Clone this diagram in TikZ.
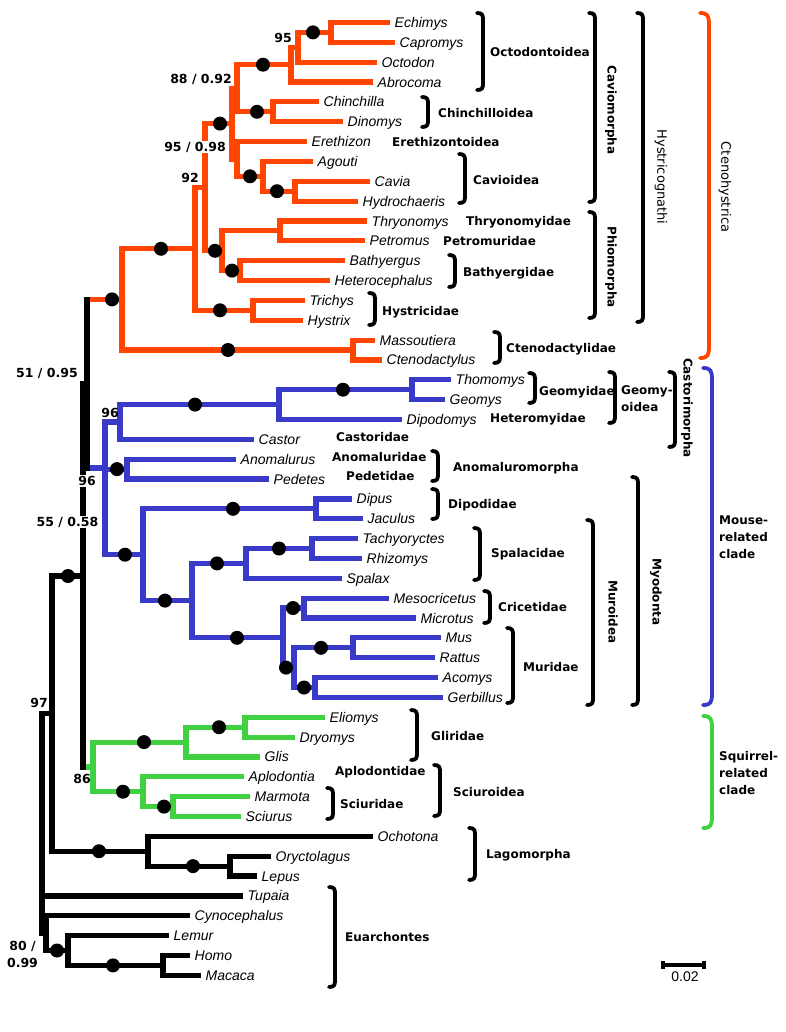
\documentclass[tikz,border=0pt]{standalone}
\usepackage{fontspec}
\setmainfont{Liberation Sans}
\newfontfamily\grpfamily{DejaVu Sans}
\definecolor{org}{RGB}{255,69,0}
\definecolor{blu}{RGB}{58,58,200}
\definecolor{grn}{RGB}{64,208,64}
\newcommand\hb[3]{\draw[br,#1] (#2 |- #3) -- (#3);}
\newcommand\vb[4]{\draw[vr,#1] (#2 |- #3) -- (#2 |- #4);}
\newcommand\mybrack[4][black]{\draw[brk,#1] ({#2-6},#3) .. controls ({#2-1},#3) and (#2,{#3+2}) .. (#2,{#3+6}) -- (#2,{#4-6}) .. controls (#2,{#4-2}) and ({#2-1},#4) .. ({#2-6},#4);}
\newcommand\mybigbrack[4][black]{\draw[brk,#1] ({#2-9},#3) .. controls ({#2-1},#3) and (#2,{#3+3}) .. (#2,{#3+12}) -- (#2,{#4-12}) .. controls (#2,{#4-3}) and ({#2-1},#4) .. ({#2-9},#4);}
\begin{document}
\begin{tikzpicture}[x=1pt,y=-1pt,
  br/.style={line width=5.2pt},
  vr/.style={line width=5.2pt,line cap=rect},
  brk/.style={line width=3.8pt,line cap=round},
  dot/.style={circle,fill=black,minimum size=14pt,inner sep=0pt},
  leaf/.style={anchor=west,inner xsep=4.5pt,inner ysep=0pt,font=\fontsize{14}{16}\selectfont\itshape,text height=10pt,text depth=0pt},
  grp/.style={anchor=west,inner sep=0pt,font=\grpfamily\bfseries\fontsize{12}{17}\selectfont,text height=8.75pt,text depth=0pt},
  vlab/.style={rotate=-90,inner sep=0pt,font=\grpfamily\bfseries\fontsize{12}{17}\selectfont,text height=8.75pt,text depth=0pt},
  vlabr/.style={rotate=-90,inner sep=0pt,font=\grpfamily\fontsize{13}{17}\selectfont,text height=9.5pt,text depth=0pt},
  mgrp/.style={anchor=north west,inner sep=0pt,align=left,font=\grpfamily\bfseries\fontsize{12}{17}\selectfont},
  sup/.style={inner sep=1pt,font=\grpfamily\bfseries\fontsize{12.5}{17}\selectfont,text height=9.1pt,text depth=0pt},
  supw/.style={sup,fill=white}]
\useasboundingbox (0,0) rectangle (785,1032);
% ---------- internal nodes ----------
\coordinate (nEC) at (331,32.4);
\coordinate (nECO) at (298,47.3);
\coordinate (nOcto) at (291,64.7);
\coordinate (nChin) at (273,111.8);
\coordinate (nOC) at (237,88.3);
\coordinate (nCav) at (295,191.2);
\coordinate (nCavi) at (263,176.3);
\coordinate (nEC2) at (237,159);
\coordinate (nCavio) at (232,123.6);
\coordinate (nTP) at (280,230.9);
\coordinate (nBath) at (240,270.6);
\coordinate (nPhio) at (222,250.8);
\coordinate (nCP) at (205,187.2);
\coordinate (nHys) at (253,310.3);
\coordinate (nHystr) at (195,248.8);
\coordinate (nCtd) at (353,350);
\coordinate (nCteno) at (122,299.4);
\coordinate (nGeo) at (412,389.7);
\coordinate (nGeoy) at (279,404.6);
\coordinate (nCast) at (120,422);
\coordinate (nAno) at (127,469.1);
\coordinate (nDip) at (316,508.8);
\coordinate (nTR) at (312,548.5);
\coordinate (nSpa) at (246,563.4);
\coordinate (nCri) at (304,608);
\coordinate (nMR) at (353,647.8);
\coordinate (nAG) at (315,687.5);
\coordinate (nMur) at (294,667.6);
\coordinate (nCM) at (283,637.8);
\coordinate (nMuro) at (192,600.6);
\coordinate (nMyo) at (143,554.7);
\coordinate (nMouse) at (105,468);
\coordinate (nED) at (245,727.2);
\coordinate (nGli) at (186,742.1);
\coordinate (nMS) at (173,806.6);
\coordinate (nSciu) at (143,791.7);
\coordinate (nSq) at (93,766.9);
\coordinate (nCtMo) at (87,383.7);
\coordinate (nRod) at (83,576);
\coordinate (nOL) at (230,866.1);
\coordinate (nLago) at (148,851.2);
\coordinate (nGlires) at (52,713.6);
\coordinate (nHM) at (163,965.4);
\coordinate (nPrim) at (68,950.5);
\coordinate (nCP2) at (46,933.1);
\coordinate (nRoot) at (42,820);
% ---------- leaves ----------
\node[leaf] (Echimys) at (390,22.5) {Echimys};
\node[leaf] (Capromys) at (395,42.35) {Capromys};
\node[leaf] (Octodon) at (377,62.2) {Octodon};
\node[leaf] (Abrocoma) at (373,82.05) {Abrocoma};
\node[leaf] (Chinchilla) at (319,101.9) {Chinchilla};
\node[leaf] (Dinomys) at (343,121.75) {Dinomys};
\node[leaf] (Erethizon) at (307,141.6) {Erethizon};
\node[leaf] (Agouti) at (313,161.45) {Agouti};
\node[leaf] (Cavia) at (370,181.3) {Cavia};
\node[leaf] (Hydrochaeris) at (358,201.15) {Hydrochaeris};
\node[leaf] (Thryonomys) at (367,221) {Thryonomys};
\node[leaf] (Petromus) at (365,240.85) {Petromus};
\node[leaf] (Bathyergus) at (345,260.7) {Bathyergus};
\node[leaf] (Heterocephalus) at (330,280.55) {Heterocephalus};
\node[leaf] (Trichys) at (305,300.4) {Trichys};
\node[leaf] (Hystrix) at (303,320.25) {Hystrix};
\node[leaf] (Massoutiera) at (375,340.1) {Massoutiera};
\node[leaf] (Ctenodactylus) at (382,359.95) {Ctenodactylus};
\node[leaf] (Thomomys) at (451,379.8) {Thomomys};
\node[leaf] (Geomys) at (445,399.65) {Geomys};
\node[leaf] (Dipodomys) at (402,419.5) {Dipodomys};
\node[leaf] (Castor) at (254,439.35) {Castor};
\node[leaf] (Anomalurus) at (236,459.2) {Anomalurus};
\node[leaf] (Pedetes) at (269,479.05) {Pedetes};
\node[leaf] (Dipus) at (352,498.9) {Dipus};
\node[leaf] (Jaculus) at (363,518.75) {Jaculus};
\node[leaf] (Tachyoryctes) at (358,538.6) {Tachyoryctes};
\node[leaf] (Rhizomys) at (362,558.45) {Rhizomys};
\node[leaf] (Spalax) at (342,578.3) {Spalax};
\node[leaf] (Mesocricetus) at (389,598.15) {Mesocricetus};
\node[leaf] (Microtus) at (416,618) {Microtus};
\node[leaf] (Mus) at (441,637.85) {Mus};
\node[leaf] (Rattus) at (435,657.7) {Rattus};
\node[leaf] (Acomys) at (438,677.55) {Acomys};
\node[leaf] (Gerbillus) at (443,697.4) {Gerbillus};
\node[leaf] (Eliomys) at (325,717.25) {Eliomys};
\node[leaf] (Dryomys) at (295,737.1) {Dryomys};
\node[leaf] (Glis) at (260,756.95) {Glis};
\node[leaf] (Aplodontia) at (244,776.8) {Aplodontia};
\node[leaf] (Marmota) at (250,796.65) {Marmota};
\node[leaf] (Sciurus) at (241,816.5) {Sciurus};
\node[leaf] (Ochotona) at (373,836.35) {Ochotona};
\node[leaf] (Oryctolagus) at (271,856.2) {Oryctolagus};
\node[leaf] (Lepus) at (257,876.05) {Lepus};
\node[leaf] (Tupaia) at (243,895.9) {Tupaia};
\node[leaf] (Cynocephalus) at (190,915.75) {Cynocephalus};
\node[leaf] (Lemur) at (169,935.6) {Lemur};
\node[leaf] (Homo) at (190,955.45) {Homo};
\node[leaf] (Macaca) at (201,975.3) {Macaca};
% ---------- horizontal branches ----------
\hb{org}{nEC}{Echimys.west} \hb{org}{nEC}{Capromys.west}
\hb{org}{nECO}{nEC} \hb{org}{nECO}{Octodon.west}
\hb{org}{nOcto}{nECO} \hb{org}{nOcto}{Abrocoma.west}
\hb{org}{nChin}{Chinchilla.west} \hb{org}{nChin}{Dinomys.west}
\hb{org}{nOC}{nOcto} \hb{org}{nOC}{nChin}
\hb{org}{nCav}{Cavia.west} \hb{org}{nCav}{Hydrochaeris.west}
\hb{org}{nCavi}{Agouti.west} \hb{org}{nCavi}{nCav}
\hb{org}{nEC2}{Erethizon.west} \hb{org}{nEC2}{nCavi}
\hb{org}{nCavio}{nOC} \hb{org}{nCavio}{nEC2}
\hb{org}{nTP}{Thryonomys.west} \hb{org}{nTP}{Petromus.west}
\hb{org}{nBath}{Bathyergus.west} \hb{org}{nBath}{Heterocephalus.west}
\hb{org}{nPhio}{nTP} \hb{org}{nPhio}{nBath}
\hb{org}{nCP}{nCavio} \hb{org}{nCP}{nPhio}
\hb{org}{nHys}{Trichys.west} \hb{org}{nHys}{Hystrix.west}
\hb{org}{nHystr}{nCP} \hb{org}{nHystr}{nHys}
\hb{org}{nCtd}{Massoutiera.west} \hb{org}{nCtd}{Ctenodactylus.west}
\hb{org}{nCteno}{nHystr} \hb{org}{nCteno}{nCtd}
\hb{org}{nCtMo}{nCteno}
\hb{blu}{nGeo}{Thomomys.west} \hb{blu}{nGeo}{Geomys.west}
\hb{blu}{nGeoy}{nGeo} \hb{blu}{nGeoy}{Dipodomys.west}
\hb{blu}{nCast}{nGeoy} \hb{blu}{nCast}{Castor.west}
\hb{blu}{nAno}{Anomalurus.west} \hb{blu}{nAno}{Pedetes.west}
\hb{blu}{nDip}{Dipus.west} \hb{blu}{nDip}{Jaculus.west}
\hb{blu}{nTR}{Tachyoryctes.west} \hb{blu}{nTR}{Rhizomys.west}
\hb{blu}{nSpa}{nTR} \hb{blu}{nSpa}{Spalax.west}
\hb{blu}{nCri}{Mesocricetus.west} \hb{blu}{nCri}{Microtus.west}
\hb{blu}{nMR}{Mus.west} \hb{blu}{nMR}{Rattus.west}
\hb{blu}{nAG}{Acomys.west} \hb{blu}{nAG}{Gerbillus.west}
\hb{blu}{nMur}{nMR} \hb{blu}{nMur}{nAG}
\hb{blu}{nCM}{nCri} \hb{blu}{nCM}{nMur}
\hb{blu}{nMuro}{nSpa} \hb{blu}{nMuro}{nCM}
\hb{blu}{nMyo}{nDip} \hb{blu}{nMyo}{nMuro}
\hb{blu}{nMouse}{nCast} \hb{blu}{nMouse}{nAno} \hb{blu}{nMouse}{nMyo}
\hb{blu}{nCtMo}{nMouse}
\hb{grn}{nED}{Eliomys.west} \hb{grn}{nED}{Dryomys.west}
\hb{grn}{nGli}{nED} \hb{grn}{nGli}{Glis.west}
\hb{grn}{nMS}{Marmota.west} \hb{grn}{nMS}{Sciurus.west}
\hb{grn}{nSciu}{Aplodontia.west} \hb{grn}{nSciu}{nMS}
\hb{grn}{nSq}{nGli} \hb{grn}{nSq}{nSciu}
\hb{grn}{nRod}{nSq}
\hb{black}{nRod}{nCtMo}
\hb{black}{nGlires}{nRod}
\hb{black}{nOL}{Oryctolagus.west} \hb{black}{nOL}{Lepus.west}
\hb{black}{nLago}{Ochotona.west} \hb{black}{nLago}{nOL}
\hb{black}{nGlires}{nLago}
\hb{black}{nRoot}{nGlires} \hb{black}{nRoot}{Tupaia.west} \hb{black}{nRoot}{nCP2}
\hb{black}{nCP2}{Cynocephalus.west} \hb{black}{nCP2}{nPrim}
\hb{black}{nPrim}{Lemur.west} \hb{black}{nPrim}{nHM}
\hb{black}{nHM}{Homo.west} \hb{black}{nHM}{Macaca.west}
% ---------- vertical branches ----------
\vb{org}{nEC}{Echimys.west}{Capromys.west}
\vb{org}{nECO}{nEC}{Octodon.west}
\vb{org}{nOcto}{nECO}{Abrocoma.west}
\vb{org}{nChin}{Chinchilla.west}{Dinomys.west}
\vb{org}{nOC}{nOcto}{nChin}
\vb{org}{nCav}{Cavia.west}{Hydrochaeris.west}
\vb{org}{nCavi}{Agouti.west}{nCav}
\vb{org}{nEC2}{Erethizon.west}{nCavi}
\vb{org}{nCavio}{nOC}{nEC2}
\vb{org}{nTP}{Thryonomys.west}{Petromus.west}
\vb{org}{nBath}{Bathyergus.west}{Heterocephalus.west}
\vb{org}{nPhio}{nTP}{nBath}
\vb{org}{nCP}{nCavio}{nPhio}
\vb{org}{nHys}{Trichys.west}{Hystrix.west}
\vb{org}{nHystr}{nCP}{nHys}
\vb{org}{nCtd}{Massoutiera.west}{Ctenodactylus.west}
\vb{org}{nCteno}{nHystr}{nCtd}
\vb{blu}{nGeo}{Thomomys.west}{Geomys.west}
\vb{blu}{nGeoy}{nGeo}{Dipodomys.west}
\vb{blu}{nCast}{nGeoy}{Castor.west}
\vb{blu}{nAno}{Anomalurus.west}{Pedetes.west}
\vb{blu}{nDip}{Dipus.west}{Jaculus.west}
\vb{blu}{nTR}{Tachyoryctes.west}{Rhizomys.west}
\vb{blu}{nSpa}{nTR}{Spalax.west}
\vb{blu}{nCri}{Mesocricetus.west}{Microtus.west}
\vb{blu}{nMR}{Mus.west}{Rattus.west}
\vb{blu}{nAG}{Acomys.west}{Gerbillus.west}
\vb{blu}{nMur}{nMR}{nAG}
\vb{blu}{nCM}{nCri}{nMur}
\vb{blu}{nMuro}{nSpa}{nCM}
\vb{blu}{nMyo}{nDip}{nMuro}
\vb{blu}{nMouse}{nCast}{nMyo}
\vb{grn}{nED}{Eliomys.west}{Dryomys.west}
\vb{grn}{nGli}{nED}{Glis.west}
\vb{grn}{nMS}{Marmota.west}{Sciurus.west}
\vb{grn}{nSciu}{Aplodontia.west}{nMS}
\vb{grn}{nSq}{nGli}{nSciu}
\vb{black}{nCtMo}{nCteno}{nMouse}
\vb{black}{nRod}{nCtMo}{nSq}
\vb{black}{nOL}{Oryctolagus.west}{Lepus.west}
\vb{black}{nLago}{Ochotona.west}{nOL}
\vb{black}{nGlires}{nRod}{nLago}
\vb{black}{nRoot}{nGlires}{nCP2}
\vb{black}{nCP2}{Cynocephalus.west}{nPrim}
\vb{black}{nPrim}{Lemur.west}{nHM}
\vb{black}{nHM}{Homo.west}{Macaca.west}
% ---------- support dots ----------
\node[dot] (dEC) at (313,0 |- nEC) {};
\node[dot] (dOcto) at (263,0 |- nOcto) {};
\node[dot] (dChin) at (257,0 |- nChin) {};
\node[dot] (dCavi) at (250,0 |- nCavi) {};
\node[dot] (dCav) at (277,0 |- nCav) {};
\node[dot] (dCavio) at (220,0 |- nCavio) {};
\node[dot] (dPhio) at (215,0 |- nPhio) {};
\node[dot] (dBath) at (232,0 |- nBath) {};
\node[dot] (dHys) at (220,0 |- nHys) {};
\node[dot] (dHystr) at (161,0 |- nHystr) {};
\node[dot] (dCtd) at (228,0 |- nCtd) {};
\node[dot] (dCteno) at (112,0 |- nCteno) {};
\node[dot] (dGeo) at (343,0 |- nGeo) {};
\node[dot] (dGeoy) at (195,0 |- nGeoy) {};
\node[dot] (dAno) at (117,0 |- nAno) {};
\node[dot] (dDip) at (233,0 |- nDip) {};
\node[dot] (dTR) at (279,0 |- nTR) {};
\node[dot] (dSpa) at (217,0 |- nSpa) {};
\node[dot] (dCri) at (293,0 |- nCri) {};
\node[dot] (dMR) at (321,0 |- nMR) {};
\node[dot] (dAG) at (304,0 |- nAG) {};
\node[dot] (dMur) at (286,0 |- nMur) {};
\node[dot] (dCM) at (237,0 |- nCM) {};
\node[dot] (dMuro) at (165,0 |- nMuro) {};
\node[dot] (dMyo) at (125,0 |- nMyo) {};
\node[dot] (dED) at (219,0 |- nED) {};
\node[dot] (dGli) at (144,0 |- nGli) {};
\node[dot] (dMS) at (164,0 |- nMS) {};
\node[dot] (dSciu) at (123,0 |- nSciu) {};
\node[dot] (dRod) at (68,0 |- nRod) {};
\node[dot] (dLago) at (99,0 |- nLago) {};
\node[dot] (dOL) at (193,0 |- nOL) {};
\node[dot] (dPrim) at (57,0 |- nPrim) {};
\node[dot] (dHM) at (113,0 |- nHM) {};
% ---------- support values ----------
\node[sup] (s1) at (283,38) {95};
\node[sup] (s2) at (201,79) {88 / 0.92};
\node[supw] (s3) at (195,147) {95 / 0.98};
\node[sup] (s4) at (190,178) {92};
\node[sup] (s5) at (47,373) {51 / 0.95};
\node[supw] (s6) at (87,481) {96};
\node[sup] (s7) at (110,413) {96};
\node[supw] (s8) at (67.5,522) {55 / 0.58};
\node[sup] (s9) at (39,703) {97};
\node[sup] (s10) at (82,779) {86};
\node[sup,anchor=north,align=center,text height=,text depth=] (s11) at (22.5,940.4) {80 /\\0.99};
% ---------- brackets ----------
\mybrack{483}{13}{90}
\mybrack{428}{97}{127}
\mybrack{465}{154}{203}
\mybrack{455}{255}{287}
\mybrack{375}{293}{325}
\mybrack{500}{332}{363}
\mybrack{595}{13}{202}
\mybrack{595}{212}{318}
\mybrack{643}{13}{322}
\mybigbrack[org]{709}{13}{358}
\mybrack{535}{373}{403}
\mybrack{615}{372}{423}
\mybrack{675}{372}{447}
\mybrack{438}{451}{481}
\mybrack{438}{489}{519}
\mybrack{480}{528}{580}
\mybrack{490}{591}{623}
\mybrack{513}{628}{703}
\mybrack{593}{520}{705}
\mybrack{638}{477}{705}
\mybigbrack[blu]{712}{368}{705}
\mybrack{417}{710}{760}
\mybrack{333}{788}{819}
\mybrack{440}{765}{816}
\mybigbrack[grn]{712}{716}{828}
\mybrack{475}{828}{880}
\mybrack{335}{887}{987}
% ---------- group labels ----------
\node[grp] (gOcto) at (490,52) {Octodontoidea};
\node[grp] (gChin) at (438,113) {Chinchilloidea};
\node[grp] (gEret) at (392,142) {Erethizontoidea};
\node[grp] (gCavi) at (473,180) {Cavioidea};
\node[grp] (gThry) at (466,221) {Thryonomyidae};
\node[grp] (gPetr) at (443,241) {Petromuridae};
\node[grp] (gBath) at (463,272) {Bathyergidae};
\node[grp] (gHyst) at (382,311) {Hystricidae};
\node[grp] (gCten) at (506,348) {Ctenodactylidae};
\node[grp] (gGeom) at (539,391) {Geomyidae};
\node[grp] (gHete) at (490,418) {Heteromyidae};
\node[grp] (gCast) at (336,437) {Castoridae};
\node[grp] (gAnom) at (332,457) {Anomaluridae};
\node[grp] (gPede) at (346,476) {Pedetidae};
\node[grp] (gAnMo) at (453,467) {Anomaluromorpha};
\node[grp] (gDipo) at (448,504) {Dipodidae};
\node[grp] (gSpal) at (491,553) {Spalacidae};
\node[grp] (gCric) at (498,607) {Cricetidae};
\node[grp] (gMuri) at (523,667) {Muridae};
\node[grp] (gGlir) at (431,736) {Gliridae};
\node[grp] (gAplo) at (335,771) {Aplodontidae};
\node[grp] (gSciu) at (340,804) {Sciuridae};
\node[grp] (gScio) at (453,792) {Sciuroidea};
\node[grp] (gLago) at (486,854) {Lagomorpha};
\node[grp] (gEuar) at (345,937) {Euarchontes};
\node[mgrp] (gGeoy) at (621,385.5) {Geomy-\\oidea};
\node[mgrp] (gMouse) at (719,515.6) {Mouse-\\related\\clade};
\node[mgrp] (gSquir) at (719,751.3) {Squirrel-\\related\\clade};
\node[vlab] (vCavi) at (612,110) {Caviomorpha};
\node[vlab] (vPhio) at (612,267) {Phiomorpha};
\node[vlabr] (vHyst) at (662,177) {Hystricognathi};
\node[vlabr] (vCten) at (726,187) {Ctenohystrica};
\node[vlab] (vCast) at (688,408) {Castorimorpha};
\node[vlab] (vMuro) at (613,612) {Muroidea};
\node[vlab] (vMyod) at (657,592) {Myodonta};
% ---------- scale bar ----------
\coordinate (sbL) at (661,965);
\coordinate (sbR) at (706,965);
\draw[line width=4pt] (sbL) -- (sbR);
\fill (sbL) ++(0,-4) rectangle ++(4,8);
\fill (sbR) ++(-4,-4) rectangle ++(4,8);
\node[inner sep=0pt,font=\fontsize{14}{16}\selectfont,text height=10pt,text depth=0pt] (sbT) at (685,976.5) {0.02};
\end{tikzpicture}
\end{document}
